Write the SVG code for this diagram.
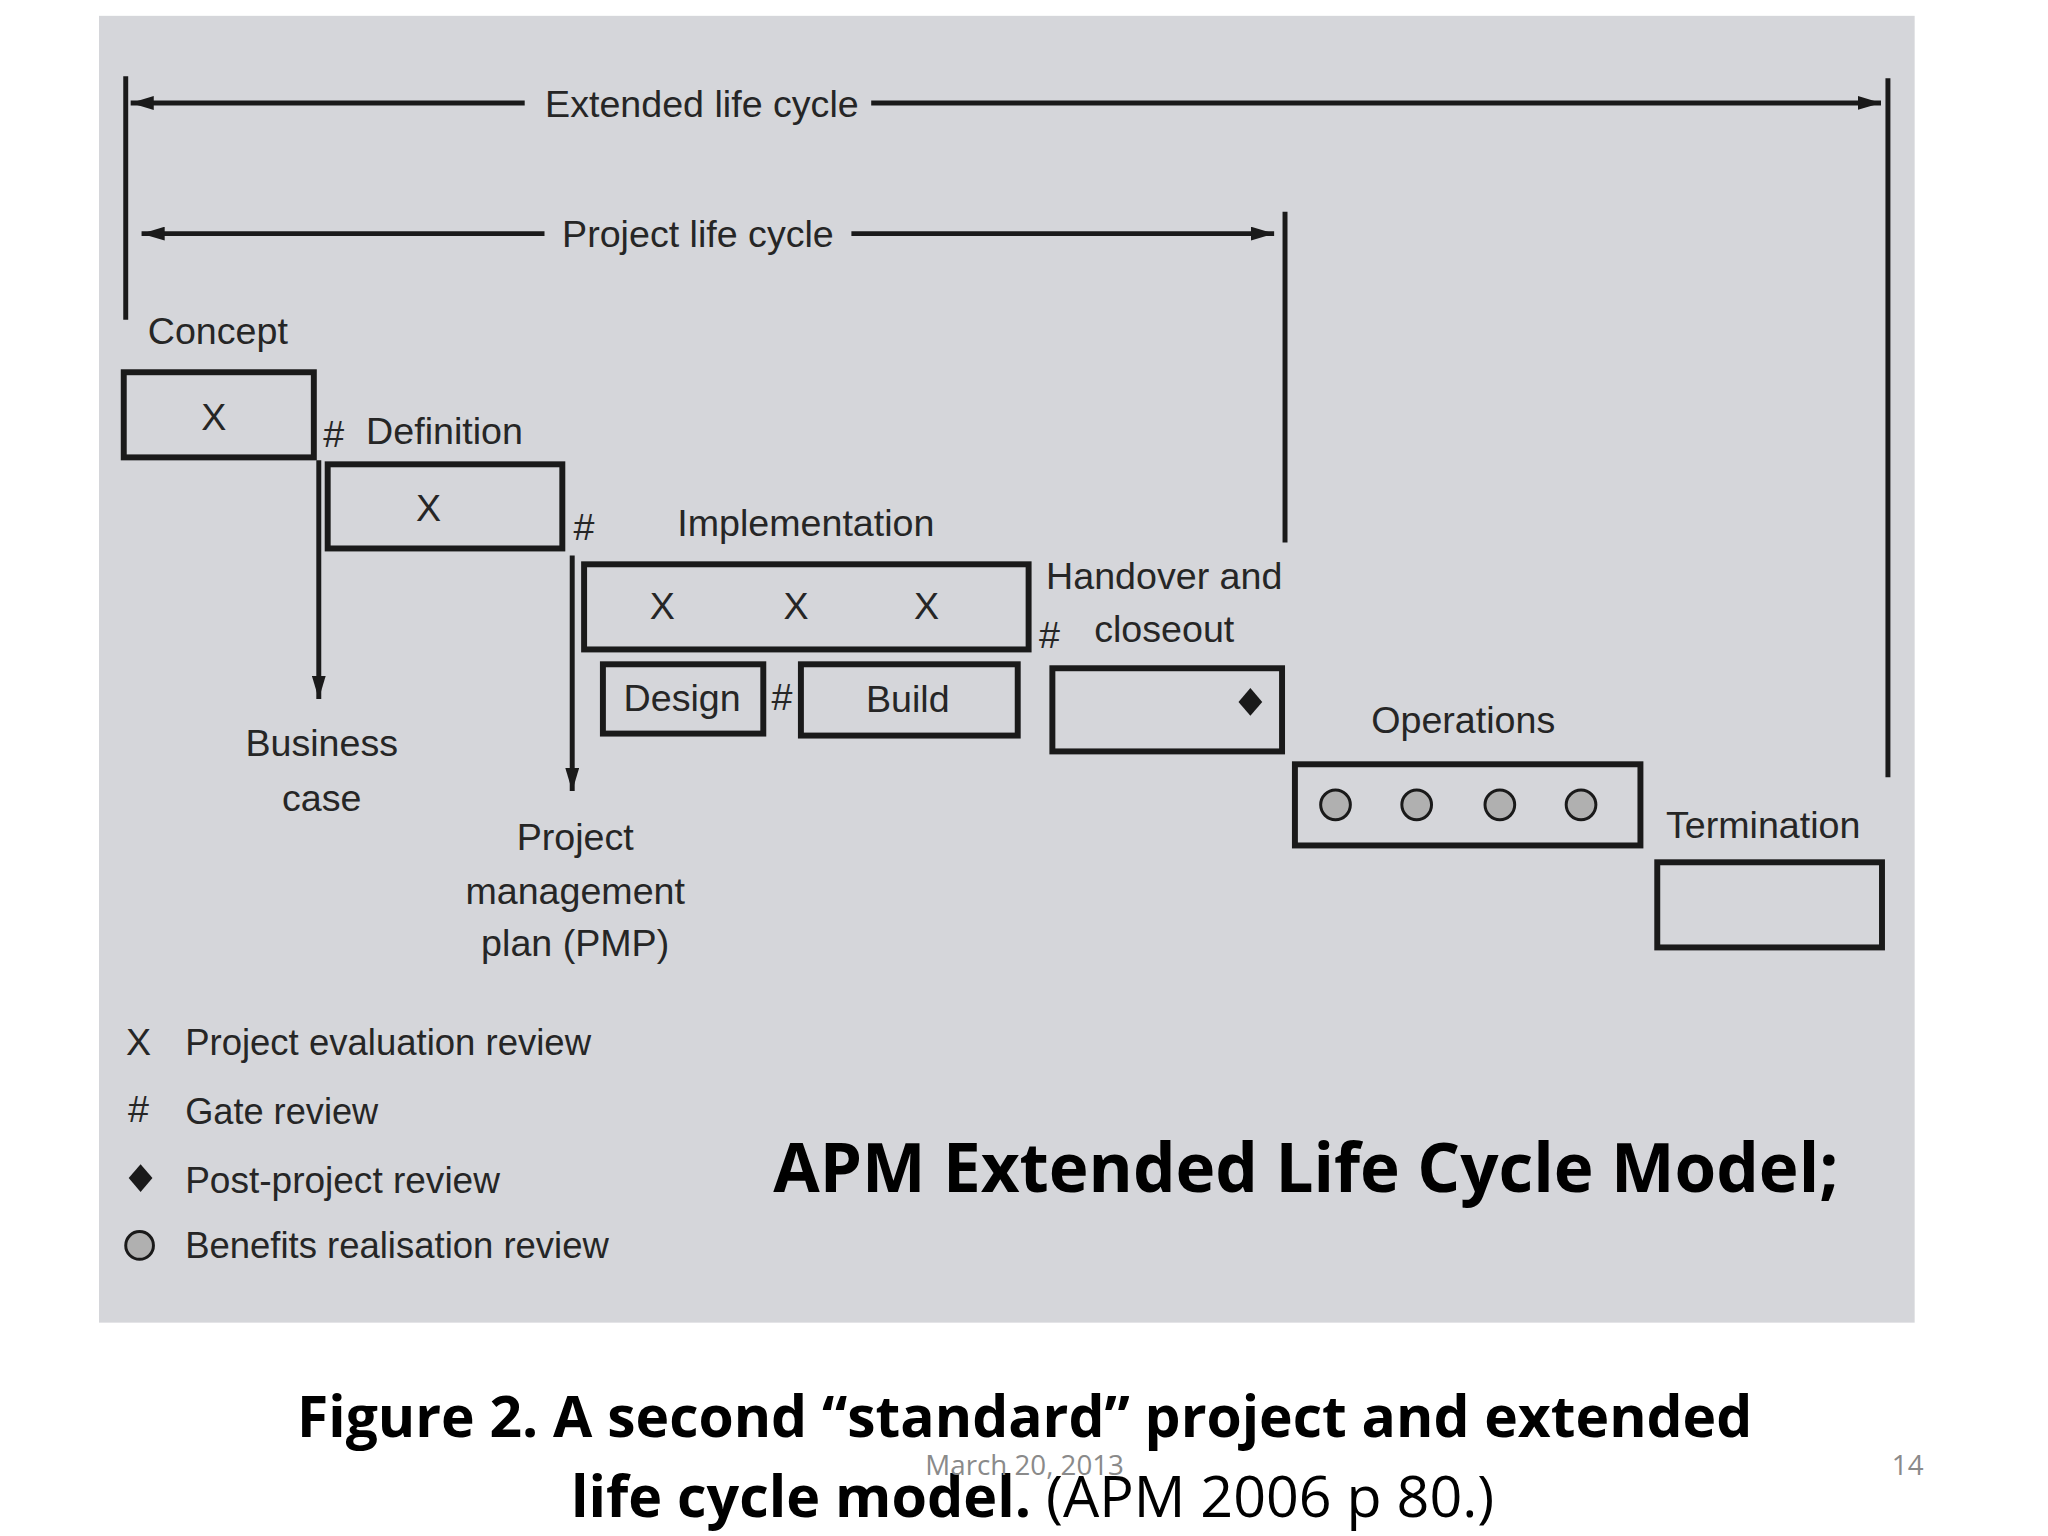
<svg xmlns="http://www.w3.org/2000/svg" width="2048" height="1536" viewBox="0 0 2048 1536">
<defs>
<style>
.t{font-family:"Liberation Sans",Arial,sans-serif;font-size:38px;fill:#262626;text-anchor:middle}
.b{fill:none;stroke:#1a1a1a;stroke-width:6}
.l{stroke:#1a1a1a;stroke-width:5;fill:none}
.c{fill:#b0b0b0;stroke:#1a1a1a;stroke-width:3}
</style>
<marker id="ah" viewBox="0 0 20 12" refX="20" refY="6" markerWidth="24" markerHeight="14" markerUnits="userSpaceOnUse" orient="auto-start-reverse"><path d="M0,0 L20,6 L0,12 Z" fill="#1a1a1a"/></marker>
</defs>
<rect width="2048" height="1536" fill="#fff"/>
<g transform="scale(0.99)">
<rect x="100" y="16" width="1834" height="1320" fill="#d5d6da"/>
<g id="connectors">
<line class="l" x1="127" y1="77" x2="127" y2="323"/>
<line class="l" x1="1907" y1="79" x2="1907" y2="785"/>
<line class="l" x1="1298" y1="214" x2="1298" y2="548"/>
<line class="l" x1="132" y1="104" x2="530" y2="104" marker-start="url(#ah)"/>
<line class="l" x1="880" y1="104" x2="1900" y2="104" marker-end="url(#ah)"/>
<line class="l" x1="143" y1="236" x2="550" y2="236" marker-start="url(#ah)"/>
<line class="l" x1="860" y1="236" x2="1287" y2="236" marker-end="url(#ah)"/>
<line class="l" x1="322" y1="465" x2="322" y2="706" marker-end="url(#ah)"/>
<line class="l" x1="578" y1="561" x2="578" y2="799" marker-end="url(#ah)"/>
</g>
<text class="t" x="709" y="118">Extended life cycle</text>
<text class="t" x="705" y="250">Project life cycle</text>
<g id="concept"><text class="t" x="220" y="347">Concept</text><rect class="b" x="125" y="376" width="192" height="86"/><text class="t" x="216" y="434">X</text></g>
<text class="t" x="337" y="452" font-size="30">#</text>
<g id="definition"><text class="t" x="449" y="448">Definition</text><rect class="b" x="331" y="469" width="237" height="85"/><text class="t" x="433" y="526">X</text></g>
<g id="business"><text class="t" x="325" y="764">Business</text><text class="t" x="325" y="819">case</text></g>
<text class="t" x="590" y="545" font-size="30">#</text>
<g id="pmp"><text class="t" x="581" y="859">Project</text><text class="t" x="581" y="913">management</text><text class="t" x="581" y="966">plan (PMP)</text></g>
<g id="implementation"><text class="t" x="814" y="541">Implementation</text><rect class="b" x="590" y="570" width="449" height="86"/><text class="t" x="669" y="625">X</text><text class="t" x="804" y="625">X</text><text class="t" x="936" y="625">X</text></g>
<g id="design"><rect class="b" x="609" y="671" width="162" height="70"/><text class="t" x="689" y="718">Design</text></g>
<text class="t" x="790" y="717" font-size="30">#</text>
<g id="build"><rect class="b" x="809" y="671" width="219" height="72"/><text class="t" x="917" y="719">Build</text></g>
<text class="t" x="1060" y="655" font-size="30">#</text>
<g id="handover"><text class="t" x="1176" y="595">Handover and</text><text class="t" x="1176" y="649">closeout</text><rect class="b" x="1063" y="675" width="232" height="84"/><path d="M1263,695 L1275,709 L1263,723 L1251,709 Z" fill="#1a1a1a"/></g>
<g id="operations"><text class="t" x="1478" y="740">Operations</text><rect class="b" x="1308" y="772" width="349" height="82"/>
<circle class="c" cx="1349" cy="813" r="15"/><circle class="c" cx="1431" cy="813" r="15"/><circle class="c" cx="1515" cy="813" r="15"/><circle class="c" cx="1597" cy="813" r="15"/></g>
<g id="termination"><text class="t" x="1781" y="846">Termination</text><rect class="b" x="1674" y="871" width="227" height="86"/></g>
<g id="legend">
<text class="t" x="140" y="1066">X</text><text class="t" x="187" y="1066" style="text-anchor:start" textLength="410" lengthAdjust="spacingAndGlyphs">Project evaluation review</text>
<text class="t" x="140" y="1133" font-size="32">#</text><text class="t" x="187" y="1135" style="text-anchor:start" textLength="195" lengthAdjust="spacingAndGlyphs">Gate review</text>
<path d="M142,1176 L154,1190 L142,1204 L130,1190 Z" fill="#1a1a1a"/><text class="t" x="187" y="1205" style="text-anchor:start" textLength="318" lengthAdjust="spacingAndGlyphs">Post-project review</text>
<circle class="c" cx="141" cy="1258" r="14"/><text class="t" x="187" y="1271" style="text-anchor:start" textLength="428" lengthAdjust="spacingAndGlyphs">Benefits realisation review</text>
</g>
<text x="1319" y="1204" font-family="'Open Sans','Liberation Sans',sans-serif" font-weight="bold" font-size="68" fill="#000" text-anchor="middle" textLength="1076" lengthAdjust="spacingAndGlyphs">APM Extended Life Cycle Model;</text>
<text x="1035" y="1452" font-family="'Open Sans','Liberation Sans',sans-serif" font-weight="bold" font-size="58" fill="#000" text-anchor="middle" textLength="1470" lengthAdjust="spacingAndGlyphs">Figure 2. A second “standard” project and extended</text>
<text x="1043" y="1532" font-family="'Open Sans','Liberation Sans',sans-serif" font-size="58" fill="#000" text-anchor="middle"><tspan font-weight="bold">life cycle model.</tspan> (APM 2006 p 80.)</text>
<text x="1035" y="1490" font-family="'Open Sans','Liberation Sans',sans-serif" font-size="28" fill="#8a8a8a" text-anchor="middle">March 20, 2013</text>
<text x="1927" y="1490" font-family="'Open Sans','Liberation Sans',sans-serif" font-size="28" fill="#8a8a8a" text-anchor="middle">14</text>
</g>
</svg>
